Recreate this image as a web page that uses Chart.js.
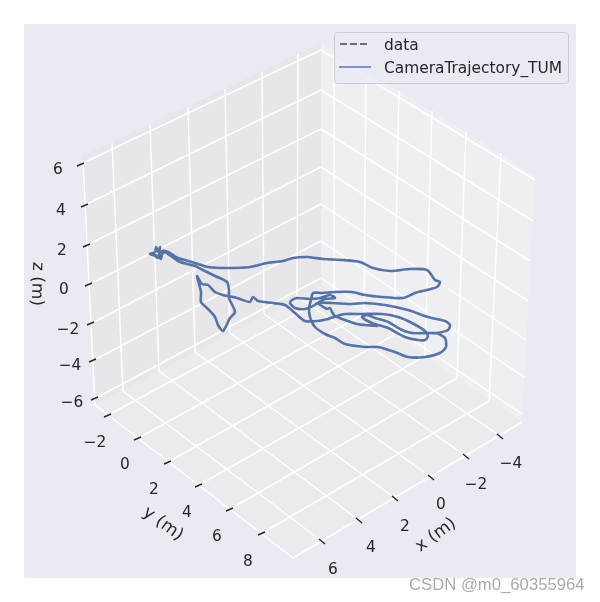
<!DOCTYPE html>
<html>
<head>
<meta charset="utf-8">
<script src="https://cdn.jsdelivr.net/npm/chart.js@4"></script>
<style>
  html, body { margin: 0; padding: 0; background: #fff; }
  canvas { display: block; }
</style>
</head>
<body>
<canvas id="trajChart" width="600" height="602"></canvas>
<script>
const trajX = [437,445,446,440,425,408,395,378,365,345,335,325,315,310,309,311,313,322,335,352,365,382,403,415,427,437,440,435,427,410,390,373,360,343,323,307,293,283,267,250,227,208,195,185,178,168,
  163,161,159,163,160,160,158,156,155,150,157,153,158,162,165,
  178,187,195,203,215,227,229,229,235,230,223,218,215,208,201,201,197,202,208,215,223,237,250,253,258,273,285,295,305,318,328,337,345,362,382,398,412,425,428,425,418,405,388,372,362,367,375,388,402,412,428,437,448,450,445,428,408,385,365,352,332,318,313,305,295,290,292,297,310,320,330,335,325,318,322,327,330,332,335,345,357,365,378];
const trajY = [333,338,347,353,357,357,352,347,347,344,338,334,327,317,308,300,293,293,292,292,295,297,298,293,290,287,282,280,270,269,271,268,262,260,259,257,258,261,263,267,268,267,263,260,258,252,
  251,259,253,251,252,247,252,247,252,254,256,254,258,254,252,
  261,264,266,270,276,282,290,298,312,318,331,325,317,309,302,292,276,284,285,292,295,298,302,297,301,303,305,313,321,321,319,316,314,314,314,317,323,331,336,340,340,337,328,323,317,315,318,322,330,333,333,333,330,325,321,317,310,305,303,304,303,303,306,309,308,303,300,298,299,298,295,298,299,303,306,309,308,312,316,320,324,325,326];

const xTickLabels = ['6', '4', '2', '0', '\u22122', '\u22124'];
const yTickLabels = ['\u22122', '0', '2', '4', '6', '8'];
const zTickLabels = ['6', '4', '2', '0', '\u22122', '\u22124', '\u22126'];

// where the labels sit
const xLabelPos = [[333,570],[371,548],[405,527],[441,505],[476,485],[511,464]];
const yLabelPos = [[95,443],[125,465],[154,490],[187,513],[217,537],[248,562]];
const zLabelPos = [[58,170],[61,211],[62,251],[64,290],[68,330],[70,366],[72,403]];

// panes
const axesBg = [[24,24],[576,24],[576,578],[24,578]];
const leftPane = [[82,156],[321,43],[321,285],[95,405]];
const rightPane = [[321,43],[535,175],[522,422],[321,285]];
const floorPane = [[95,405],[321,285],[522,422],[293,558]];

// grid lines, x1 y1 x2 y2
const zGridLeft = [[83,163,321,50],[87,204,321,90],[89,244,321,129],[92,283,321,167],[94,322,321,204],[96,359,321,241],[98,397,321,278]];
const zGridRight = [[321,50,535,180],[321,90,533,221],[321,129,530,261],[321,167,528,301],[321,204,526,340],[321,241,524,377],[321,278,522,414]];
const xGridLeft = [[112,143,123,391],[150,125,159,371],[188,107,195,352],[225,89,230,333],[262,72,264,314],[298,54,297,296]];
const yGridRight = [[334,53,334,294],[366,72,364,314],[399,91,394,335],[432,111,425,356],[466,132,457,378],[501,153,489,401]];
const xGridFloor = [[123,391,319,539],[159,371,356,518],[195,352,392,496],[230,333,428,475],[264,314,463,454],[297,296,497,434]];
const yGridFloor = [[110,414,334,294],[140,437,364,314],[170,461,394,335],[201,484,425,356],[232,508,457,378],[264,532,489,401]];
// the three axis lines
const axisEdges = [[83,160,95,405],[95,405,293,558],[293,558,522,422]];

// tick marks
const zTicks = [[77,166,84,163],[81,207,88,204],[83,247,90,244],[85,286,92,283],[87,325,94,322],[89,362,96,359],[91,400,98,397]];
const yTicks = [[104,417,111,414],[134,440,141,437],[164,464,171,461],[195,487,202,484],[226,511,233,508],[258,535,265,532]];
const xTicks = [[319,539,325,544],[356,518,362,523],[392,496,398,501],[428,475,434,480],[463,454,469,459],[497,434,503,439]];

function toPoints(xs, ys) {
    return xs.map((x, i) => ({ x: x, y: ys[i] }));
}

// join segments in one dataset, null breaks the line
function segments(list) {
    const pts = [];
    list.forEach(s => {
        pts.push({ x: s[0], y: s[1] }, { x: s[2], y: s[3] }, { x: null, y: null });
    });
    return pts;
}

function pane(corners, color) {
    return {
        data: corners.map(c => ({ x: c[0], y: c[1] })),
        showLine: true,
        borderWidth: 0,
        borderColor: color,
        backgroundColor: color,
        fill: 'shape',
        pointRadius: 0
    };
}

function lines(list, color, width) {
    return {
        data: segments(list),
        showLine: true,
        borderColor: color,
        borderWidth: width,
        pointRadius: 0,
        fill: false,
        spanGaps: false
    };
}

const gridColor = '#ffffff';
const tickColor = '#262626';

// text of the plot, drawn on top of the datasets
const labelsPlugin = {
    id: 'labelsPlugin',
    afterDatasetsDraw: (chart) => {
        const ctx = chart.ctx;
        ctx.save();
        ctx.fillStyle = tickColor;
        ctx.textAlign = 'center';
        ctx.textBaseline = 'middle';
        ctx.font = '15.4px "DejaVu Sans"';
        xTickLabels.forEach((t, i) => ctx.fillText(t, xLabelPos[i][0], xLabelPos[i][1]));
        yTickLabels.forEach((t, i) => ctx.fillText(t, yLabelPos[i][0], yLabelPos[i][1]));
        zTickLabels.forEach((t, i) => ctx.fillText(t, zLabelPos[i][0], zLabelPos[i][1]));

        const axisLabel = (text, x, y, deg) => {
            ctx.save();
            ctx.translate(x, y);
            ctx.rotate(deg * Math.PI / 180);
            ctx.fillText(text, 0, 0);
            ctx.restore();
        };
        ctx.font = '17px "DejaVu Sans"';
        axisLabel('x (m)', 436, 535, -36);
        axisLabel('y (m)', 163, 524, 36);
        axisLabel('z (m)', 37, 284, 92);

        // legend box
        ctx.beginPath();
        ctx.roundRect(334.5, 32.5, 234, 51, 3);
        ctx.fillStyle = 'rgba(234,234,242,0.8)';
        ctx.fill();
        ctx.strokeStyle = '#cccccc';
        ctx.lineWidth = 1;
        ctx.stroke();

        ctx.lineWidth = 2;
        ctx.strokeStyle = '#6e6e6e';
        ctx.setLineDash([7, 3]);
        ctx.beginPath();
        ctx.moveTo(340, 44);
        ctx.lineTo(370, 44);
        ctx.stroke();
        ctx.setLineDash([]);
        ctx.strokeStyle = '#7595cb';
        ctx.beginPath();
        ctx.moveTo(339, 67);
        ctx.lineTo(371, 67);
        ctx.stroke();

        ctx.fillStyle = tickColor;
        ctx.textAlign = 'left';
        ctx.font = '15.4px "DejaVu Sans"';
        ctx.fillText('data', 384, 46);
        ctx.fillText('CameraTrajectory_TUM', 384, 69);

        ctx.fillStyle = '#a9a9a9';
        ctx.font = '16.7px "Liberation Sans"';
        ctx.fillText('CSDN @m0_60355964', 409, 585);
        ctx.restore();
    }
};

// chart.js paints the first dataset last, so marks on top come first here
new Chart(document.getElementById('trajChart').getContext('2d'), {
    type: 'scatter',
    data: {
        datasets: [
            lines(zTicks, tickColor, 1.4),
            lines(yTicks, tickColor, 1.4),
            lines(xTicks, tickColor, 1.4),
            {
                label: 'data',
                data: toPoints(trajX, trajY),
                showLine: true,
                borderColor: 'rgba(100,100,100,0.35)',
                borderWidth: 1.8,
                borderDash: [7, 3],
                pointRadius: 0,
                tension: 0.25
            },
            {
                label: 'CameraTrajectory_TUM',
                data: toPoints(trajX, trajY),
                showLine: true,
                borderColor: 'rgba(76,114,176,0.95)',
                borderWidth: 2.6,
                pointRadius: 0,
                tension: 0.25
            },
            lines(axisEdges, gridColor, 1.5),
            lines(yGridFloor, gridColor, 1.5),
            lines(xGridFloor, gridColor, 1.5),
            lines(yGridRight, gridColor, 1.5),
            lines(zGridRight, gridColor, 1.5),
            lines(xGridLeft, gridColor, 1.5),
            lines(zGridLeft, gridColor, 1.5),
            pane(floorPane, '#ebebee'),
            pane(rightPane, '#eeeef3'),
            pane(leftPane, '#e6e6eb'),
            pane(axesBg, '#eaeaf2')
        ]
    },
    options: {
        responsive: false,
        animation: false,
        layout: { padding: 0 },
        plugins: {
            legend: { display: false },
            tooltip: { enabled: false }
        },
        scales: {
            x: { type: 'linear', display: false, min: 0, max: 600 },
            y: { type: 'linear', display: false, min: 0, max: 602, reverse: true }
        }
    },
    plugins: [labelsPlugin]
});
</script>
</body>
</html>
